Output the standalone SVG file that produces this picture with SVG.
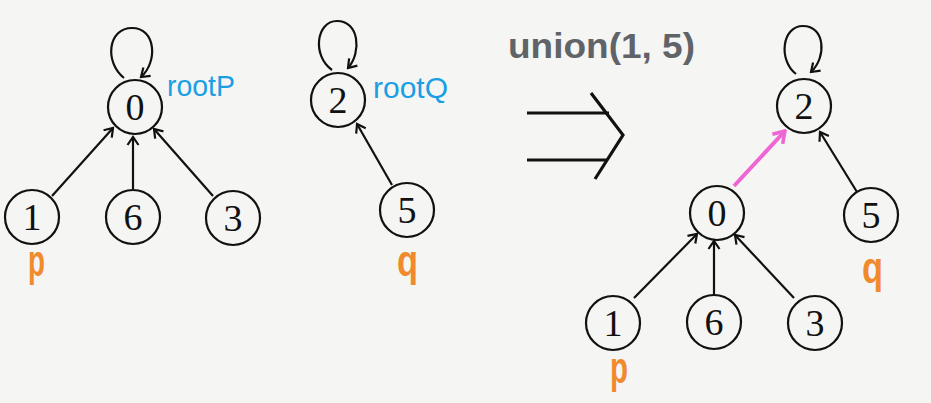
<svg xmlns="http://www.w3.org/2000/svg" width="931" height="403" viewBox="0 0 931 403">
<defs>
<style>
.nd circle{fill:none;stroke:#111;stroke-width:2.2}
.nd text{font-family:"Liberation Serif","DejaVu Serif",serif;font-size:38px;fill:#111;text-anchor:middle}
.edge{fill:none;stroke:#111;stroke-width:2.2;marker-end:url(#ah)}
.pink{fill:none;stroke:#ee66d4;stroke-width:4;marker-end:url(#ahp)}
.blue{font-family:"Liberation Sans","DejaVu Sans",sans-serif;font-size:30px;fill:#1a9fe4}
.orange{font-family:"Liberation Sans","DejaVu Sans",sans-serif;font-size:44px;font-weight:bold;fill:#f08a2c}
</style>
<marker id="ah" viewBox="-10 -7 12 14" markerWidth="12" markerHeight="14" refX="0" refY="0" orient="auto" markerUnits="userSpaceOnUse">
<path d="M-8,-5.5 L0,0 L-8,5.5" fill="none" stroke="#111" stroke-width="2.2"/>
</marker>
<marker id="ahp" viewBox="-14 -9 16 18" markerWidth="16" markerHeight="18" refX="0" refY="0" orient="auto" markerUnits="userSpaceOnUse">
<path d="M-11,-7 L0,0 L-11,7" fill="none" stroke="#ee66d4" stroke-width="3.5"/>
</marker>
</defs>
<rect width="931" height="403" fill="#f5f5f3"/>

<g id="connectors">
<path class="edge" d="M124,78 C104,62 108,28 132,28 C156,28 158,62 141,77"/>
<path class="edge" d="M52,196 L113,128"/>
<path class="edge" d="M133,189 L133,137"/>
<path class="edge" d="M213,196 L154,129"/>
<path class="edge" d="M332,70 C312,56 316,21 337,21 C359,21 362,52 348,68"/>
<path class="edge" d="M392,185 L357,124"/>
<path class="edge" d="M796,74 C778,60 782,26 803,26 C825,26 827,57 811,72"/>
<path class="edge" d="M634,298 L697,234"/>
<path class="edge" d="M714,295 L714,241"/>
<path class="edge" d="M794,298 L735,235"/>
<path class="edge" d="M857,192 L820,132"/>
<path class="pink" d="M734,186 L785,131"/>
</g>

<g id="implies" fill="none" stroke="#111" stroke-width="3.2">
<line x1="527" y1="113" x2="609" y2="113"/>
<line x1="527" y1="160" x2="607" y2="160"/>
<path d="M591,93 L623,135 L595,179"/>
</g>

<text x="508" y="58" font-family="Liberation Sans, Arial, sans-serif" font-weight="bold" font-size="35" fill="#606468" textLength="187" lengthAdjust="spacingAndGlyphs">union(1, 5)</text>

<g id="L0" class="nd"><circle cx="135" cy="107" r="27"/><text x="135" y="120">0</text></g>
<g id="L1" class="nd"><circle cx="32" cy="217" r="27"/><text x="32" y="230">1</text></g>
<g id="L6" class="nd"><circle cx="133" cy="217" r="27"/><text x="133" y="230">6</text></g>
<g id="L3" class="nd"><circle cx="233" cy="218" r="27"/><text x="233" y="231">3</text></g>
<g id="M2" class="nd"><circle cx="338" cy="100" r="27"/><text x="338" y="113">2</text></g>
<g id="M5" class="nd"><circle cx="407" cy="210" r="27"/><text x="407" y="223">5</text></g>
<g id="R2" class="nd"><circle cx="804" cy="106" r="27"/><text x="804" y="119">2</text></g>
<g id="R0" class="nd"><circle cx="717" cy="213" r="27"/><text x="717" y="226">0</text></g>
<g id="R5" class="nd"><circle cx="871" cy="215" r="27"/><text x="871" y="228">5</text></g>
<g id="R1" class="nd"><circle cx="613" cy="323" r="27"/><text x="613" y="336">1</text></g>
<g id="R6" class="nd"><circle cx="714" cy="322" r="27"/><text x="714" y="335">6</text></g>
<g id="R3" class="nd"><circle cx="815" cy="323" r="27"/><text x="815" y="336">3</text></g>

<g id="labels">
<text class="blue" x="167" y="96" textLength="68" lengthAdjust="spacingAndGlyphs">rootP</text>
<text class="blue" x="373" y="98" textLength="75" lengthAdjust="spacingAndGlyphs">rootQ</text>
<text class="orange" x="28" y="276" textLength="17" lengthAdjust="spacingAndGlyphs">p</text>
<text class="orange" x="397" y="276" textLength="21" lengthAdjust="spacingAndGlyphs">q</text>
<text class="orange" x="862" y="283" textLength="21" lengthAdjust="spacingAndGlyphs">q</text>
<text class="orange" x="610" y="383" textLength="18" lengthAdjust="spacingAndGlyphs">p</text>
</g>
</svg>
